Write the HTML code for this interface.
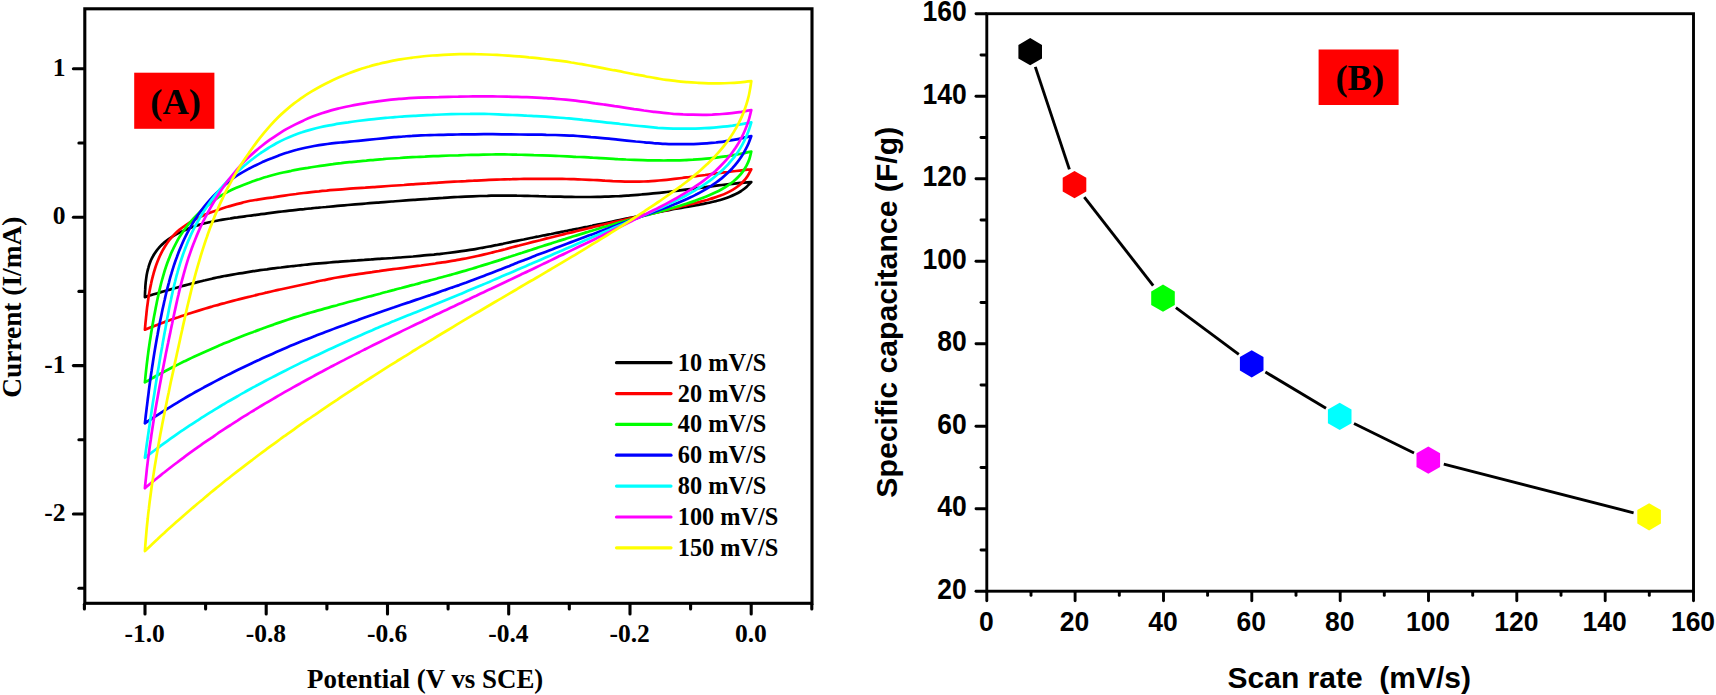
<!DOCTYPE html><html><head><meta charset="utf-8"><title>Figure</title><style>
html,body{margin:0;padding:0;background:#fff}svg{display:block}
.ts{font-family:"Liberation Serif",serif;font-weight:bold;fill:#000}
.ta{font-family:"Liberation Sans",sans-serif;font-weight:bold;fill:#000}
</style></head><body>
<svg width="1716" height="695" viewBox="0 0 1716 695">
<rect width="1716" height="695" fill="#fff"/>
<g fill="none" stroke-width="2.7" stroke-linejoin="round" stroke-linecap="round">
<path d="M144.9 297.1C145.0 294.7 145.0 292.3 145.2 289.9C145.3 287.4 145.4 284.9 145.7 282.4C146.0 279.9 146.3 277.4 146.7 274.9C147.1 272.5 147.7 270.0 148.4 267.6C149.0 265.2 149.9 262.8 150.8 260.5C151.8 258.3 153.0 256.1 154.3 254.0C155.6 252.0 157.0 249.9 158.6 248.1C160.1 246.3 161.8 244.6 163.6 243.1C165.3 241.5 167.1 240.1 169.0 238.8C170.9 237.5 172.8 236.3 174.8 235.1C176.8 234.0 178.9 232.9 181.0 231.9C183.1 230.9 185.2 229.9 187.4 229.0C189.6 228.1 191.8 227.2 194.1 226.5C196.3 225.7 198.7 225.0 201.0 224.3C203.3 223.6 205.7 223.1 208.1 222.5C210.5 221.9 212.9 221.4 215.3 221.0C217.7 220.5 220.2 220.1 222.7 219.6C225.1 219.2 227.6 218.8 230.1 218.5C232.6 218.1 235.0 217.7 237.5 217.4C240.0 217.0 242.5 216.7 245.0 216.3C247.5 216.0 250.0 215.6 252.4 215.3C254.9 215.0 257.4 214.6 259.9 214.3C262.3 214.0 264.8 213.7 267.3 213.3C269.7 213.0 272.2 212.7 274.7 212.4C277.1 212.1 279.6 211.8 282.0 211.5C284.5 211.2 286.9 210.9 289.4 210.6C291.8 210.4 294.3 210.1 296.7 209.8C299.1 209.6 301.6 209.3 304.0 209.1C306.5 208.8 308.9 208.6 311.3 208.4C313.8 208.1 316.2 207.9 318.6 207.7C321.1 207.4 323.5 207.2 325.9 207.0C328.4 206.7 330.8 206.5 333.2 206.3C335.7 206.1 338.1 205.9 340.5 205.6C342.9 205.4 345.4 205.2 347.8 205.0C350.2 204.8 352.6 204.6 355.1 204.4C357.5 204.2 359.9 204.0 362.4 203.8C364.8 203.6 367.2 203.4 369.6 203.2C372.1 203.0 374.5 202.8 376.9 202.6C379.4 202.4 381.8 202.3 384.2 202.1C386.7 201.9 389.1 201.7 391.5 201.5C394.0 201.3 396.4 201.2 398.9 201.0C401.3 200.8 403.7 200.6 406.2 200.4C408.6 200.3 411.1 200.1 413.5 199.9C416.0 199.7 418.4 199.6 420.9 199.4C423.3 199.2 425.8 199.0 428.2 198.9C430.7 198.7 433.2 198.5 435.6 198.3C438.1 198.2 440.5 198.0 443.0 197.9C445.5 197.7 447.9 197.5 450.4 197.4C452.9 197.3 455.3 197.1 457.8 197.0C460.3 196.8 462.7 196.7 465.2 196.6C467.6 196.5 470.1 196.4 472.6 196.3C475.0 196.2 477.5 196.1 480.0 196.0C482.4 195.9 484.9 195.8 487.4 195.8C489.8 195.7 492.3 195.7 494.7 195.6C497.2 195.6 499.6 195.6 502.1 195.6C504.6 195.6 507.0 195.6 509.5 195.6C511.9 195.6 514.4 195.6 516.8 195.7C519.3 195.7 521.7 195.8 524.2 195.8C526.6 195.9 529.1 195.9 531.5 196.0C534.0 196.0 536.4 196.1 538.8 196.2C541.3 196.2 543.7 196.3 546.2 196.4C548.6 196.4 551.1 196.5 553.5 196.6C555.9 196.6 558.4 196.7 560.8 196.7C563.3 196.8 565.7 196.8 568.2 196.9C570.6 196.9 573.0 197.0 575.5 197.0C577.9 197.0 580.4 197.0 582.8 197.0C585.3 197.0 587.7 197.0 590.2 197.0C592.6 197.0 595.0 197.0 597.5 196.9C599.9 196.9 602.4 196.8 604.8 196.7C607.3 196.6 609.7 196.5 612.2 196.4C614.6 196.3 617.1 196.2 619.5 196.1C622.0 195.9 624.4 195.8 626.9 195.6C629.3 195.4 631.8 195.3 634.2 195.1C636.7 194.9 639.1 194.7 641.6 194.5C644.0 194.3 646.5 194.1 648.9 193.8C651.4 193.6 653.8 193.4 656.3 193.1C658.7 192.9 661.2 192.6 663.6 192.3C666.0 192.1 668.5 191.8 670.9 191.5C673.4 191.2 675.8 190.9 678.2 190.6C680.7 190.3 683.1 190.0 685.5 189.7C688.0 189.4 690.4 189.1 692.8 188.8C695.3 188.4 697.7 188.1 700.1 187.8C702.5 187.5 705.0 187.2 707.4 186.8C709.8 186.5 712.3 186.2 714.7 185.9C717.1 185.6 719.6 185.3 722.0 185.0C724.4 184.7 726.9 184.4 729.3 184.1C731.7 183.9 734.2 183.6 736.6 183.3C739.1 183.1 741.5 182.8 743.9 182.6C746.4 182.4 748.8 182.2 751.3 182.0C749.7 183.6 748.2 185.4 746.5 186.9C744.8 188.4 743.0 189.7 741.2 191.0C739.3 192.2 737.3 193.3 735.3 194.3C733.3 195.3 731.2 196.2 729.1 197.0C727.0 197.8 724.8 198.5 722.6 199.2C720.4 199.9 718.1 200.5 715.9 201.1C713.6 201.6 711.3 202.2 709.1 202.7C706.8 203.2 704.5 203.6 702.2 204.1C699.8 204.5 697.5 205.0 695.2 205.4C692.9 205.8 690.6 206.2 688.2 206.6C685.9 207.0 683.6 207.4 681.3 207.8C678.9 208.2 676.6 208.6 674.3 209.0C672.0 209.4 669.7 209.9 667.4 210.3C665.1 210.7 662.8 211.2 660.5 211.6C658.2 212.1 655.9 212.5 653.6 213.0C651.3 213.4 649.0 213.9 646.8 214.4C644.5 214.8 642.2 215.3 639.9 215.8C637.6 216.2 635.4 216.7 633.1 217.2C630.8 217.7 628.5 218.1 626.3 218.6C624.0 219.1 621.7 219.6 619.5 220.1C617.2 220.6 614.9 221.1 612.7 221.5C610.4 222.0 608.1 222.5 605.8 223.0C603.6 223.5 601.3 224.0 599.0 224.4C596.8 224.9 594.5 225.3 592.2 225.8C589.9 226.2 587.7 226.7 585.4 227.1C583.1 227.6 580.8 228.0 578.6 228.5C576.3 228.9 574.0 229.4 571.7 229.9C569.4 230.3 567.2 230.8 564.9 231.2C562.6 231.7 560.3 232.1 558.0 232.6C555.7 233.1 553.5 233.5 551.2 234.0C548.9 234.4 546.6 234.9 544.3 235.3C542.0 235.8 539.7 236.2 537.4 236.7C535.2 237.1 532.9 237.6 530.6 238.0C528.3 238.5 526.0 239.0 523.7 239.5C521.4 239.9 519.1 240.4 516.8 240.9C514.5 241.4 512.2 241.9 509.9 242.3C507.6 242.8 505.3 243.3 503.0 243.8C500.7 244.2 498.4 244.7 496.1 245.2C493.8 245.6 491.5 246.1 489.2 246.5C486.9 247.0 484.6 247.4 482.3 247.8C480.0 248.3 477.7 248.7 475.4 249.1C473.1 249.5 470.8 249.8 468.5 250.2C466.2 250.6 463.9 250.9 461.6 251.2C459.3 251.5 457.0 251.8 454.7 252.1C452.3 252.4 450.0 252.7 447.7 253.0C445.4 253.3 443.1 253.6 440.8 253.8C438.5 254.1 436.2 254.3 433.9 254.6C431.5 254.8 429.2 255.0 426.9 255.2C424.6 255.5 422.3 255.7 420.0 255.9C417.6 256.1 415.3 256.3 413.0 256.5C410.7 256.6 408.4 256.8 406.1 257.0C403.7 257.2 401.4 257.3 399.1 257.5C396.8 257.7 394.5 257.8 392.2 258.0C389.8 258.1 387.5 258.3 385.2 258.5C382.9 258.6 380.6 258.8 378.2 258.9C375.9 259.1 373.6 259.2 371.3 259.4C369.0 259.5 366.6 259.7 364.3 259.9C362.0 260.0 359.7 260.2 357.4 260.4C355.0 260.5 352.7 260.7 350.4 260.9C348.1 261.0 345.7 261.2 343.4 261.4C341.1 261.6 338.8 261.7 336.5 261.9C334.2 262.1 331.8 262.3 329.5 262.5C327.2 262.7 324.9 262.9 322.6 263.1C320.2 263.3 317.9 263.5 315.6 263.7C313.3 264.0 311.0 264.2 308.7 264.4C306.3 264.6 304.0 264.9 301.7 265.1C299.4 265.4 297.1 265.6 294.8 265.9C292.4 266.1 290.1 266.4 287.8 266.6C285.5 266.9 283.2 267.2 280.9 267.5C278.6 267.7 276.3 268.0 274.0 268.3C271.7 268.6 269.3 268.9 267.0 269.3C264.7 269.6 262.4 269.9 260.1 270.2C257.8 270.6 255.5 270.9 253.2 271.2C250.9 271.6 248.6 272.0 246.3 272.3C244.0 272.7 241.7 273.1 239.4 273.4C237.1 273.8 234.9 274.2 232.6 274.6C230.3 275.0 228.0 275.4 225.7 275.8C223.4 276.3 221.1 276.7 218.9 277.2C216.6 277.6 214.3 278.2 212.0 278.7C209.8 279.2 207.5 279.7 205.2 280.3C203.0 280.8 200.7 281.4 198.4 281.9C196.2 282.5 193.9 283.1 191.7 283.6C189.4 284.2 187.2 284.8 184.9 285.4C182.7 286.0 180.4 286.6 178.2 287.2C175.9 287.8 173.7 288.5 171.5 289.1C169.2 289.7 167.0 290.4 164.8 291.0C162.6 291.7 160.4 292.3 158.1 293.0C155.9 293.7 153.7 294.3 151.5 295.0C149.3 295.7 147.1 296.4 144.9 297.1Z" stroke="#000"/>
<path d="M144.9 329.7C145.1 327.3 145.3 325.0 145.5 322.6C145.8 320.1 146.0 317.6 146.3 315.1C146.5 312.6 146.8 310.0 147.1 307.4C147.5 304.8 147.8 302.2 148.2 299.5C148.6 296.9 149.0 294.2 149.5 291.6C150.0 288.9 150.5 286.2 151.1 283.6C151.6 281.0 152.3 278.3 153.0 275.7C153.6 273.1 154.4 270.5 155.2 268.0C156.0 265.5 156.9 263.0 157.9 260.5C158.9 258.1 159.9 255.7 161.1 253.4C162.2 251.1 163.4 248.9 164.8 246.7C166.1 244.6 167.5 242.5 169.0 240.5C170.5 238.6 172.2 236.7 173.9 235.0C175.6 233.2 177.4 231.5 179.3 229.9C181.2 228.4 183.2 226.9 185.2 225.5C187.3 224.0 189.4 222.7 191.6 221.4C193.8 220.2 196.0 219.0 198.3 217.9C200.6 216.7 202.9 215.7 205.3 214.6C207.7 213.6 210.1 212.7 212.6 211.8C215.0 210.9 217.5 210.0 220.0 209.2C222.5 208.3 225.0 207.6 227.5 206.8C230.0 206.1 232.5 205.3 235.1 204.6C237.6 203.9 240.1 203.3 242.6 202.6C245.1 202.0 247.7 201.3 250.2 200.8C252.7 200.3 255.3 200.0 257.8 199.6C260.4 199.2 262.9 198.8 265.4 198.4C268.0 198.1 270.5 197.7 273.1 197.4C275.6 197.0 278.1 196.6 280.7 196.2C283.2 195.8 285.8 195.4 288.3 195.0C290.9 194.7 293.4 194.3 296.0 194.0C298.5 193.6 301.1 193.3 303.7 193.0C306.2 192.7 308.8 192.4 311.3 192.1C313.9 191.8 316.5 191.5 319.0 191.3C321.6 191.0 324.1 190.8 326.7 190.6C329.3 190.3 331.8 190.1 334.4 189.9C337.0 189.7 339.5 189.5 342.1 189.3C344.7 189.1 347.3 188.9 349.8 188.7C352.4 188.6 355.0 188.4 357.5 188.2C360.1 188.0 362.7 187.8 365.3 187.7C367.8 187.5 370.4 187.3 373.0 187.1C375.6 186.9 378.1 186.8 380.7 186.6C383.3 186.4 385.9 186.2 388.4 186.0C391.0 185.9 393.6 185.7 396.2 185.5C398.7 185.3 401.3 185.1 403.9 185.0C406.5 184.8 409.0 184.6 411.6 184.4C414.2 184.2 416.8 184.1 419.4 183.9C421.9 183.7 424.5 183.5 427.1 183.4C429.7 183.2 432.2 183.1 434.8 182.9C437.4 182.7 440.0 182.6 442.6 182.4C445.1 182.3 447.7 182.1 450.3 181.9C452.9 181.8 455.4 181.6 458.0 181.5C460.6 181.4 463.2 181.2 465.8 181.1C468.3 180.9 470.9 180.8 473.5 180.7C476.1 180.5 478.6 180.4 481.2 180.3C483.8 180.2 486.4 180.1 489.0 179.9C491.5 179.8 494.1 179.7 496.7 179.6C499.3 179.5 501.9 179.5 504.4 179.4C507.0 179.3 509.6 179.2 512.2 179.2C514.7 179.1 517.3 179.1 519.9 179.0C522.5 179.0 525.1 178.9 527.6 178.9C530.2 178.9 532.8 178.8 535.4 178.8C537.9 178.8 540.5 178.8 543.1 178.8C545.7 178.8 548.3 178.8 550.8 178.8C553.4 178.8 556.0 178.9 558.6 178.9C561.1 178.9 563.7 179.0 566.3 179.0C568.9 179.1 571.5 179.2 574.0 179.2C576.6 179.3 579.2 179.4 581.8 179.5C584.3 179.6 586.9 179.7 589.5 179.8C592.1 179.9 594.6 180.1 597.2 180.2C599.8 180.4 602.4 180.5 604.9 180.7C607.5 180.8 610.1 180.9 612.7 181.1C615.2 181.2 617.8 181.3 620.4 181.4C623.0 181.5 625.5 181.6 628.1 181.6C630.7 181.7 633.3 181.7 635.8 181.7C638.4 181.7 641.0 181.6 643.6 181.5C646.1 181.4 648.7 181.3 651.3 181.1C653.9 181.0 656.4 180.8 659.0 180.5C661.6 180.3 664.2 180.1 666.7 179.8C669.3 179.5 671.9 179.2 674.4 178.9C677.0 178.6 679.6 178.3 682.1 178.0C684.7 177.7 687.3 177.3 689.8 177.0C692.4 176.7 695.0 176.3 697.6 176.0C700.1 175.7 702.7 175.3 705.2 175.0C707.8 174.6 710.4 174.3 712.9 173.9C715.5 173.6 718.1 173.3 720.6 172.9C723.2 172.6 725.7 172.3 728.3 172.0C730.9 171.6 733.4 171.3 736.0 171.0C738.5 170.7 741.1 170.4 743.6 170.1C746.2 169.8 748.7 169.6 751.3 169.3C750.1 171.4 749.1 173.7 747.8 175.7C746.6 177.6 745.1 179.5 743.5 181.2C742.0 182.8 740.3 184.4 738.6 185.8C736.8 187.2 734.9 188.5 733.0 189.6C731.0 190.8 729.0 191.9 726.9 192.9C724.8 193.9 722.7 194.8 720.5 195.6C718.3 196.4 716.0 197.2 713.8 197.9C711.5 198.7 709.2 199.3 706.9 200.0C704.5 200.6 702.2 201.2 699.9 201.9C697.5 202.5 695.2 203.1 692.9 203.7C690.5 204.3 688.2 204.9 685.9 205.4C683.5 206.0 681.2 206.6 678.9 207.1C676.6 207.7 674.2 208.3 671.9 208.8C669.6 209.4 667.3 209.9 665.0 210.5C662.6 211.0 660.3 211.5 658.0 212.1C655.7 212.6 653.4 213.1 651.0 213.7C648.7 214.2 646.4 214.7 644.1 215.3C641.8 215.8 639.5 216.3 637.2 216.8C634.8 217.4 632.5 217.9 630.2 218.4C627.9 219.0 625.6 219.5 623.3 220.0C621.0 220.5 618.6 221.1 616.3 221.6C614.0 222.1 611.7 222.7 609.4 223.2C607.1 223.8 604.8 224.3 602.5 224.9C600.2 225.4 597.9 226.0 595.5 226.5C593.2 227.1 590.9 227.6 588.6 228.2C586.3 228.7 584.0 229.3 581.7 229.9C579.4 230.4 577.1 231.0 574.7 231.6C572.4 232.1 570.1 232.7 567.8 233.3C565.5 233.9 563.2 234.4 560.9 235.0C558.6 235.6 556.3 236.2 553.9 236.7C551.6 237.3 549.3 237.9 547.0 238.4C544.7 239.0 542.4 239.6 540.1 240.2C537.7 240.7 535.4 241.3 533.1 241.9C530.8 242.5 528.5 243.1 526.2 243.7C523.8 244.3 521.5 244.9 519.2 245.5C516.9 246.1 514.6 246.7 512.3 247.3C509.9 247.9 507.6 248.5 505.3 249.2C503.0 249.8 500.6 250.4 498.3 251.0C496.0 251.5 493.7 252.1 491.3 252.7C489.0 253.3 486.7 253.9 484.4 254.4C482.0 255.0 479.7 255.5 477.4 256.0C475.0 256.5 472.7 257.0 470.4 257.5C468.0 258.0 465.7 258.5 463.4 258.9C461.0 259.3 458.7 259.8 456.4 260.2C454.0 260.6 451.7 261.0 449.3 261.3C447.0 261.7 444.7 262.1 442.3 262.4C440.0 262.8 437.6 263.1 435.3 263.5C433.0 263.8 430.6 264.2 428.3 264.5C425.9 264.8 423.6 265.1 421.2 265.5C418.9 265.8 416.5 266.1 414.2 266.4C411.9 266.7 409.5 267.0 407.2 267.3C404.8 267.7 402.5 268.0 400.1 268.3C397.8 268.6 395.4 268.9 393.1 269.2C390.8 269.5 388.4 269.9 386.1 270.2C383.7 270.5 381.4 270.8 379.1 271.2C376.7 271.5 374.4 271.8 372.0 272.2C369.7 272.5 367.4 272.9 365.0 273.2C362.7 273.5 360.4 273.9 358.0 274.2C355.7 274.6 353.4 274.9 351.0 275.2C348.7 275.6 346.4 275.9 344.0 276.3C341.7 276.7 339.4 277.1 337.1 277.5C334.7 277.9 332.4 278.4 330.1 278.9C327.8 279.4 325.4 279.8 323.1 280.3C320.8 280.8 318.5 281.3 316.1 281.7C313.8 282.2 311.5 282.7 309.2 283.2C306.8 283.7 304.5 284.2 302.2 284.7C299.9 285.2 297.5 285.7 295.2 286.2C292.9 286.7 290.6 287.2 288.3 287.7C285.9 288.2 283.6 288.7 281.3 289.2C279.0 289.7 276.7 290.3 274.3 290.8C272.0 291.3 269.7 291.8 267.4 292.4C265.1 292.9 262.8 293.5 260.5 294.0C258.2 294.6 255.8 295.1 253.5 295.7C251.2 296.2 248.9 296.8 246.6 297.4C244.3 297.9 242.0 298.5 239.7 299.1C237.4 299.7 235.1 300.3 232.8 300.9C230.5 301.5 228.2 302.1 225.9 302.7C223.6 303.3 221.4 304.0 219.1 304.6C216.8 305.2 214.5 305.9 212.2 306.5C209.9 307.2 207.7 307.9 205.4 308.5C203.1 309.2 200.8 309.9 198.6 310.6C196.3 311.3 194.0 312.0 191.8 312.7C189.5 313.4 187.3 314.2 185.0 314.9C182.8 315.7 180.5 316.4 178.3 317.2C176.0 317.9 173.8 318.7 171.5 319.5C169.3 320.3 167.1 321.1 164.8 321.9C162.6 322.8 160.4 323.6 158.2 324.4C155.9 325.3 153.7 326.1 151.5 327.0C149.3 327.9 147.1 328.8 144.9 329.7Z" stroke="#f00"/>
<path d="M144.9 382.4C145.2 379.6 145.4 376.9 145.7 374.1C146.0 371.3 146.3 368.6 146.6 365.8C146.9 363.1 147.3 360.3 147.6 357.5C148.0 354.8 148.3 352.0 148.7 349.3C149.1 346.5 149.5 343.8 149.9 341.0C150.4 338.2 150.8 335.5 151.2 332.7C151.7 330.0 152.2 327.2 152.6 324.5C153.1 321.7 153.6 318.9 154.1 316.2C154.7 313.4 155.2 310.6 155.7 307.9C156.3 305.1 156.8 302.3 157.4 299.5C158.0 296.7 158.6 294.0 159.2 291.2C159.9 288.5 160.5 285.7 161.2 283.0C162.0 280.2 162.7 277.5 163.5 274.8C164.3 272.1 165.1 269.4 166.0 266.8C166.9 264.1 167.8 261.5 168.9 258.9C169.9 256.3 170.9 253.7 172.1 251.2C173.2 248.7 174.4 246.2 175.7 243.8C177.0 241.3 178.3 238.9 179.8 236.6C181.2 234.2 182.8 231.9 184.4 229.7C186.0 227.5 187.7 225.3 189.5 223.2C191.3 221.0 193.1 219.0 195.0 217.0C197.0 215.0 199.0 213.0 201.0 211.1C203.1 209.2 205.2 207.4 207.4 205.6C209.6 203.8 211.8 202.1 214.1 200.5C216.4 198.8 218.7 197.2 221.1 195.7C223.4 194.2 225.8 192.9 228.3 191.6C230.7 190.3 233.2 189.2 235.7 188.1C238.2 187.0 240.8 185.9 243.3 184.9C245.9 183.9 248.5 182.9 251.1 182.0C253.7 181.1 256.3 180.1 258.9 179.3C261.6 178.4 264.2 177.5 266.9 176.8C269.5 176.0 272.2 175.2 274.9 174.5C277.6 173.8 280.3 173.1 283.1 172.5C285.8 171.9 288.5 171.3 291.3 170.8C294.0 170.2 296.8 169.7 299.5 169.2C302.3 168.7 305.1 168.2 307.8 167.8C310.6 167.3 313.4 166.9 316.2 166.5C319.0 166.1 321.7 165.7 324.5 165.3C327.3 164.9 330.1 164.5 332.9 164.2C335.7 163.8 338.5 163.5 341.3 163.2C344.0 162.8 346.8 162.5 349.6 162.2C352.4 161.9 355.2 161.7 358.0 161.4C360.8 161.1 363.5 160.8 366.3 160.6C369.1 160.3 371.9 160.1 374.7 159.8C377.5 159.6 380.3 159.4 383.1 159.2C385.9 158.9 388.6 158.7 391.4 158.5C394.2 158.3 397.0 158.1 399.8 158.0C402.6 157.8 405.4 157.6 408.2 157.4C411.0 157.3 413.7 157.1 416.5 157.0C419.3 156.8 422.1 156.7 424.9 156.6C427.7 156.4 430.5 156.3 433.3 156.2C436.1 156.1 438.9 156.0 441.7 155.8C444.4 155.7 447.2 155.6 450.0 155.5C452.8 155.4 455.6 155.3 458.4 155.3C461.2 155.2 464.0 155.1 466.8 155.0C469.6 154.9 472.4 154.9 475.2 154.8C478.0 154.8 480.7 154.7 483.5 154.6C486.3 154.6 489.1 154.6 491.9 154.5C494.7 154.5 497.5 154.4 500.3 154.4C503.1 154.4 505.9 154.5 508.7 154.5C511.5 154.6 514.3 154.6 517.1 154.7C519.9 154.7 522.7 154.8 525.4 154.8C528.2 154.9 531.0 155.0 533.8 155.1C536.6 155.1 539.4 155.2 542.2 155.3C545.0 155.4 547.8 155.5 550.6 155.6C553.4 155.7 556.2 155.8 559.0 156.0C561.8 156.1 564.6 156.2 567.4 156.3C570.2 156.5 573.0 156.6 575.8 156.8C578.6 156.9 581.4 157.1 584.2 157.2C587.0 157.4 589.8 157.5 592.6 157.7C595.4 157.8 598.1 158.0 600.9 158.1C603.7 158.3 606.5 158.5 609.3 158.6C612.1 158.8 614.9 158.9 617.7 159.1C620.5 159.2 623.3 159.3 626.1 159.5C628.9 159.6 631.7 159.7 634.5 159.8C637.3 159.9 640.1 160.0 642.9 160.1C645.7 160.2 648.5 160.3 651.3 160.3C654.0 160.4 656.8 160.4 659.6 160.4C662.4 160.5 665.2 160.5 668.0 160.4C670.8 160.4 673.6 160.4 676.4 160.3C679.1 160.3 681.9 160.2 684.7 160.1C687.5 160.0 690.3 159.8 693.1 159.7C695.8 159.5 698.6 159.3 701.4 159.1C704.2 158.9 707.0 158.7 709.7 158.4C712.5 158.1 715.3 157.8 718.1 157.4C720.9 157.1 723.6 156.7 726.4 156.3C729.2 155.9 731.9 155.4 734.7 154.9C737.5 154.4 740.3 153.9 743.0 153.3C745.8 152.8 748.5 152.1 751.3 151.5C750.7 154.0 750.2 156.6 749.4 159.0C748.6 161.3 747.6 163.5 746.5 165.7C745.4 167.7 744.2 169.7 742.8 171.6C741.5 173.4 740.0 175.2 738.4 176.8C736.8 178.5 735.1 180.0 733.3 181.5C731.5 182.9 729.6 184.3 727.7 185.6C725.7 186.9 723.7 188.1 721.7 189.2C719.6 190.4 717.4 191.5 715.2 192.5C713.0 193.6 710.8 194.6 708.6 195.5C706.3 196.5 704.0 197.4 701.7 198.3C699.4 199.2 697.1 200.0 694.8 200.9C692.4 201.7 690.1 202.5 687.7 203.3C685.3 204.1 682.9 204.8 680.6 205.6C678.2 206.3 675.7 207.0 673.3 207.8C670.9 208.5 668.5 209.2 666.0 209.9C663.6 210.5 661.2 211.2 658.7 211.9C656.3 212.6 653.8 213.2 651.4 213.9C649.0 214.5 646.5 215.2 644.1 215.8C641.6 216.5 639.2 217.2 636.8 217.8C634.3 218.5 631.9 219.2 629.5 219.8C627.1 220.5 624.6 221.2 622.2 221.9C619.8 222.5 617.4 223.2 615.0 223.9C612.6 224.6 610.2 225.3 607.8 226.0C605.4 226.7 603.0 227.3 600.6 228.0C598.2 228.8 595.8 229.5 593.4 230.2C591.0 230.9 588.6 231.7 586.2 232.4C583.9 233.2 581.5 233.9 579.1 234.6C576.7 235.4 574.3 236.1 572.0 236.8C569.6 237.6 567.2 238.3 564.9 239.1C562.5 239.8 560.1 240.6 557.8 241.3C555.4 242.1 553.0 242.8 550.7 243.6C548.3 244.3 545.9 245.1 543.6 245.8C541.2 246.6 538.8 247.3 536.5 248.1C534.1 248.8 531.8 249.6 529.4 250.4C527.1 251.1 524.7 251.9 522.3 252.7C520.0 253.4 517.6 254.2 515.3 255.0C512.9 255.7 510.5 256.5 508.2 257.3C505.8 258.0 503.5 258.8 501.1 259.6C498.8 260.3 496.4 261.1 494.0 261.9C491.7 262.6 489.3 263.4 487.0 264.1C484.6 264.8 482.2 265.6 479.9 266.3C477.5 267.0 475.1 267.8 472.8 268.5C470.4 269.2 468.0 269.9 465.6 270.6C463.3 271.2 460.9 271.9 458.5 272.6C456.2 273.3 453.8 273.9 451.4 274.6C449.0 275.2 446.6 275.9 444.3 276.5C441.9 277.2 439.5 277.8 437.1 278.5C434.7 279.1 432.4 279.8 430.0 280.4C427.6 281.0 425.2 281.7 422.8 282.3C420.5 282.9 418.1 283.6 415.7 284.2C413.3 284.8 410.9 285.5 408.5 286.1C406.1 286.7 403.8 287.3 401.4 288.0C399.0 288.6 396.6 289.2 394.2 289.9C391.8 290.5 389.5 291.1 387.1 291.8C384.7 292.4 382.3 293.0 379.9 293.7C377.5 294.3 375.2 294.9 372.8 295.6C370.4 296.2 368.0 296.9 365.6 297.5C363.3 298.1 360.9 298.8 358.5 299.4C356.1 300.0 353.7 300.7 351.4 301.3C349.0 302.0 346.6 302.6 344.2 303.2C341.9 303.9 339.5 304.5 337.1 305.2C334.7 305.8 332.4 306.5 330.0 307.1C327.6 307.8 325.3 308.4 322.9 309.1C320.5 309.8 318.2 310.4 315.8 311.1C313.5 311.8 311.1 312.4 308.7 313.1C306.4 313.8 304.0 314.4 301.7 315.2C299.3 315.9 297.0 316.6 294.6 317.4C292.3 318.2 289.9 319.0 287.6 319.7C285.2 320.5 282.9 321.3 280.6 322.1C278.2 322.9 275.9 323.7 273.6 324.6C271.2 325.4 268.9 326.2 266.6 327.0C264.2 327.9 261.9 328.7 259.6 329.6C257.3 330.4 255.0 331.3 252.7 332.2C250.3 333.0 248.0 333.9 245.7 334.8C243.4 335.7 241.1 336.6 238.8 337.5C236.5 338.4 234.2 339.3 231.9 340.2C229.6 341.2 227.4 342.1 225.1 343.0C222.8 344.0 220.5 344.9 218.2 345.9C216.0 346.9 213.7 347.9 211.4 348.9C209.2 349.9 206.9 350.9 204.6 351.9C202.4 352.9 200.1 353.9 197.9 354.9C195.6 356.0 193.4 357.0 191.1 358.1C188.9 359.2 186.7 360.2 184.4 361.3C182.2 362.4 180.0 363.5 177.8 364.6C175.6 365.7 173.3 366.9 171.1 368.0C168.9 369.2 166.7 370.3 164.5 371.5C162.3 372.7 160.1 373.8 157.9 375.0C155.8 376.2 153.6 377.4 151.4 378.7C149.2 379.9 147.1 381.2 144.9 382.4Z" stroke="#0f0"/>
<path d="M144.9 423.3C145.2 420.4 145.6 417.4 145.9 414.5C146.3 411.5 146.6 408.6 147.0 405.6C147.4 402.7 147.7 399.7 148.1 396.8C148.5 393.8 148.8 390.9 149.2 387.9C149.6 385.0 150.0 382.0 150.4 379.1C150.8 376.2 151.2 373.2 151.7 370.3C152.1 367.3 152.6 364.4 153.0 361.5C153.5 358.5 153.9 355.6 154.4 352.6C154.9 349.7 155.4 346.8 155.9 343.8C156.4 340.9 156.9 337.9 157.5 335.0C158.0 332.1 158.6 329.1 159.1 326.2C159.7 323.3 160.3 320.3 160.9 317.4C161.5 314.5 162.1 311.5 162.7 308.6C163.4 305.7 164.0 302.7 164.7 299.8C165.3 296.9 166.0 293.9 166.7 291.0C167.5 288.1 168.2 285.2 169.0 282.3C169.7 279.4 170.5 276.5 171.4 273.7C172.2 270.8 173.1 267.9 174.0 265.1C175.0 262.3 175.9 259.5 177.0 256.7C178.0 253.9 179.0 251.1 180.2 248.4C181.3 245.6 182.5 242.9 183.7 240.2C184.9 237.6 186.2 234.9 187.6 232.3C189.0 229.7 190.4 227.1 191.9 224.6C193.4 222.0 194.9 219.5 196.6 217.1C198.2 214.6 200.0 212.2 201.7 209.8C203.5 207.5 205.4 205.2 207.3 202.9C209.3 200.6 211.3 198.4 213.3 196.2C215.4 194.0 217.5 191.9 219.7 189.9C221.8 187.8 224.1 185.8 226.3 183.8C228.6 181.8 230.9 179.9 233.3 178.1C235.7 176.4 238.1 174.9 240.6 173.4C243.1 171.9 245.6 170.5 248.1 169.1C250.7 167.8 253.2 166.4 255.8 165.2C258.4 163.9 261.1 162.7 263.7 161.5C266.4 160.3 269.1 159.2 271.8 158.2C274.5 157.1 277.3 156.1 280.0 155.1C282.8 154.1 285.6 153.1 288.4 152.3C291.2 151.4 294.0 150.5 296.8 149.8C299.7 149.0 302.6 148.3 305.4 147.7C308.3 147.1 311.2 146.5 314.1 146.0C317.0 145.5 319.9 145.0 322.9 144.6C325.8 144.2 328.8 143.8 331.7 143.4C334.7 143.1 337.6 142.8 340.6 142.5C343.5 142.2 346.5 142.0 349.5 141.7C352.5 141.4 355.4 141.1 358.4 140.8C361.4 140.5 364.4 140.2 367.4 139.9C370.3 139.6 373.3 139.3 376.3 139.0C379.3 138.7 382.3 138.4 385.3 138.1C388.3 137.8 391.2 137.5 394.2 137.2C397.2 137.0 400.2 136.7 403.2 136.5C406.2 136.3 409.2 136.0 412.2 135.9C415.2 135.7 418.1 135.5 421.1 135.4C424.1 135.3 427.1 135.2 430.1 135.1C433.1 135.0 436.1 135.0 439.1 134.9C442.1 134.8 445.0 134.8 448.0 134.7C451.0 134.6 454.0 134.6 457.0 134.5C460.0 134.5 463.0 134.4 465.9 134.4C468.9 134.4 471.9 134.3 474.9 134.3C477.9 134.3 480.9 134.3 483.8 134.2C486.8 134.2 489.8 134.2 492.8 134.2C495.8 134.3 498.7 134.3 501.7 134.3C504.7 134.3 507.7 134.4 510.6 134.4C513.6 134.5 516.6 134.5 519.6 134.5C522.5 134.5 525.5 134.5 528.5 134.6C531.5 134.6 534.4 134.6 537.4 134.6C540.4 134.7 543.4 134.7 546.3 134.8C549.3 134.8 552.3 134.9 555.3 135.0C558.2 135.1 561.2 135.2 564.2 135.3C567.2 135.4 570.2 135.5 573.1 135.7C576.1 135.9 579.1 136.1 582.1 136.3C585.0 136.5 588.0 136.8 591.0 137.1C594.0 137.3 597.0 137.6 599.9 137.9C602.9 138.2 605.9 138.5 608.9 138.7C611.9 139.0 614.8 139.4 617.8 139.7C620.8 140.0 623.8 140.3 626.8 140.6C629.7 140.9 632.7 141.2 635.7 141.5C638.7 141.7 641.6 142.0 644.6 142.3C647.6 142.6 650.6 142.8 653.6 143.1C656.5 143.3 659.5 143.6 662.5 143.8C665.4 143.9 668.4 144.1 671.4 144.1C674.4 144.2 677.3 144.2 680.3 144.2C683.3 144.2 686.3 144.2 689.2 144.1C692.2 144.1 695.2 144.0 698.1 143.8C701.1 143.7 704.0 143.5 707.0 143.3C710.0 143.0 712.9 142.8 715.9 142.5C718.9 142.1 721.8 141.8 724.8 141.3C727.7 140.9 730.7 140.4 733.6 139.9C736.6 139.4 739.5 138.8 742.5 138.1C745.4 137.5 748.4 136.7 751.3 136.0C750.4 138.5 749.5 141.0 748.5 143.4C747.5 145.7 746.3 148.0 745.1 150.3C744.0 152.5 742.7 154.6 741.3 156.7C740.0 158.7 738.6 160.7 737.1 162.6C735.6 164.5 734.0 166.4 732.4 168.2C730.8 169.9 729.1 171.6 727.3 173.3C725.6 174.9 723.8 176.5 721.9 178.1C720.0 179.6 718.1 181.1 716.1 182.5C714.2 183.9 712.1 185.3 710.1 186.6C708.0 187.9 705.9 189.2 703.8 190.4C701.6 191.6 699.4 192.8 697.2 194.0C695.0 195.1 692.7 196.3 690.5 197.3C688.2 198.4 685.8 199.5 683.5 200.5C681.2 201.5 678.8 202.5 676.4 203.5C674.0 204.5 671.6 205.4 669.2 206.4C666.8 207.3 664.3 208.2 661.9 209.1C659.5 210.0 657.0 210.9 654.5 211.8C652.1 212.7 649.6 213.6 647.2 214.4C644.7 215.3 642.2 216.2 639.8 217.1C637.3 217.9 634.8 218.8 632.4 219.7C629.9 220.6 627.5 221.4 625.0 222.3C622.6 223.2 620.2 224.1 617.7 224.9C615.3 225.8 612.8 226.7 610.4 227.6C608.0 228.5 605.6 229.3 603.1 230.2C600.7 231.1 598.3 232.0 595.9 232.9C593.4 233.8 591.0 234.7 588.6 235.6C586.2 236.5 583.8 237.4 581.4 238.3C579.0 239.2 576.6 240.1 574.2 241.0C571.7 241.9 569.3 242.8 566.9 243.7C564.5 244.6 562.1 245.5 559.7 246.4C557.3 247.3 554.9 248.2 552.6 249.2C550.2 250.1 547.8 251.0 545.4 251.9C543.0 252.8 540.6 253.7 538.2 254.6C535.8 255.5 533.4 256.5 531.0 257.4C528.6 258.3 526.2 259.3 523.9 260.2C521.5 261.1 519.1 262.1 516.7 263.0C514.3 264.0 511.9 264.9 509.5 265.9C507.1 266.8 504.7 267.7 502.3 268.7C500.0 269.6 497.6 270.6 495.2 271.5C492.8 272.5 490.4 273.4 488.0 274.3C485.6 275.2 483.2 276.2 480.8 277.1C478.4 278.0 476.0 278.9 473.6 279.8C471.2 280.7 468.8 281.6 466.4 282.5C464.0 283.3 461.6 284.2 459.2 285.1C456.8 285.9 454.4 286.8 452.0 287.6C449.6 288.5 447.2 289.3 444.8 290.1C442.4 291.0 440.0 291.8 437.6 292.6C435.2 293.4 432.8 294.2 430.3 295.1C427.9 295.9 425.5 296.7 423.1 297.5C420.7 298.3 418.3 299.1 415.9 299.9C413.5 300.7 411.1 301.5 408.7 302.4C406.3 303.2 403.9 304.0 401.4 304.8C399.0 305.6 396.6 306.4 394.2 307.3C391.8 308.1 389.4 308.9 387.0 309.7C384.6 310.6 382.2 311.4 379.8 312.2C377.4 313.1 375.0 313.9 372.6 314.8C370.2 315.6 367.8 316.5 365.4 317.3C363.0 318.2 360.6 319.1 358.2 319.9C355.8 320.8 353.4 321.7 351.0 322.5C348.6 323.4 346.2 324.3 343.8 325.2C341.4 326.0 339.0 326.9 336.6 327.8C334.3 328.7 331.9 329.6 329.5 330.5C327.1 331.4 324.7 332.3 322.4 333.2C320.0 334.1 317.6 335.1 315.2 336.0C312.9 336.9 310.5 337.8 308.1 338.8C305.8 339.7 303.4 340.7 301.0 341.6C298.7 342.6 296.3 343.6 293.9 344.6C291.6 345.5 289.2 346.5 286.9 347.5C284.5 348.5 282.2 349.6 279.9 350.6C277.5 351.6 275.2 352.6 272.8 353.7C270.5 354.7 268.2 355.7 265.8 356.8C263.5 357.8 261.2 358.9 258.9 360.0C256.5 361.0 254.2 362.1 251.9 363.2C249.6 364.3 247.3 365.4 245.0 366.5C242.7 367.6 240.4 368.7 238.1 369.8C235.8 370.9 233.5 372.0 231.2 373.2C228.9 374.3 226.7 375.5 224.4 376.6C222.1 377.8 219.8 378.9 217.6 380.1C215.3 381.3 213.0 382.5 210.8 383.7C208.5 384.9 206.3 386.1 204.0 387.3C201.8 388.6 199.6 389.8 197.3 391.0C195.1 392.3 192.9 393.5 190.6 394.8C188.4 396.1 186.2 397.4 184.0 398.6C181.8 399.9 179.6 401.2 177.4 402.6C175.2 403.9 173.0 405.2 170.8 406.6C168.6 407.9 166.4 409.3 164.3 410.6C162.1 412.0 159.9 413.4 157.8 414.8C155.6 416.2 153.5 417.6 151.3 419.0C149.2 420.4 147.0 421.9 144.9 423.3Z" stroke="#00f"/>
<path d="M144.9 457.8C145.3 454.7 145.8 451.6 146.2 448.4C146.6 445.3 147.1 442.2 147.5 439.1C148.0 436.0 148.4 432.9 148.9 429.8C149.3 426.7 149.8 423.6 150.2 420.5C150.7 417.4 151.1 414.3 151.6 411.2C152.1 408.1 152.5 405.0 153.0 401.9C153.5 398.9 154.0 395.8 154.5 392.7C155.0 389.6 155.4 386.5 155.9 383.4C156.4 380.4 156.9 377.3 157.4 374.2C157.9 371.1 158.5 368.0 159.0 364.9C159.5 361.9 160.0 358.8 160.5 355.7C161.1 352.6 161.6 349.5 162.2 346.4C162.7 343.3 163.2 340.3 163.8 337.2C164.4 334.1 164.9 331.0 165.5 327.9C166.1 324.8 166.6 321.7 167.2 318.6C167.8 315.5 168.4 312.4 169.0 309.3C169.6 306.2 170.2 303.1 170.9 300.0C171.5 296.9 172.2 293.8 172.9 290.7C173.6 287.7 174.3 284.6 175.1 281.5C175.8 278.5 176.6 275.4 177.5 272.4C178.3 269.4 179.2 266.4 180.1 263.4C181.0 260.4 182.0 257.4 183.0 254.5C184.1 251.5 185.1 248.6 186.3 245.7C187.4 242.8 188.6 239.9 189.9 237.1C191.1 234.3 192.5 231.5 193.9 228.7C195.3 225.9 196.7 223.2 198.3 220.5C199.8 217.8 201.4 215.1 203.1 212.5C204.8 209.9 206.5 207.3 208.3 204.7C210.1 202.1 211.9 199.6 213.8 197.1C215.7 194.6 217.7 192.1 219.7 189.7C221.7 187.3 223.7 184.9 225.9 182.6C227.9 180.4 230.1 178.4 232.3 176.3C234.5 174.2 236.8 172.2 239.1 170.2C241.4 168.2 243.7 166.1 246.1 164.2C248.4 162.2 250.8 160.3 253.3 158.5C255.7 156.6 258.2 154.8 260.7 153.0C263.3 151.3 265.8 149.6 268.4 148.0C271.1 146.4 273.7 144.8 276.4 143.3C279.1 141.8 281.9 140.4 284.7 139.1C287.5 137.8 290.3 136.5 293.2 135.4C296.1 134.3 299.0 133.2 302.0 132.3C305.0 131.3 308.0 130.4 311.0 129.6C314.0 128.8 317.1 128.0 320.1 127.3C323.2 126.6 326.3 126.0 329.4 125.4C332.5 124.8 335.6 124.3 338.7 123.7C341.8 123.2 344.9 122.7 348.1 122.3C351.2 121.8 354.3 121.4 357.4 121.0C360.5 120.6 363.6 120.2 366.8 119.8C369.9 119.5 373.0 119.1 376.1 118.8C379.2 118.5 382.4 118.2 385.5 117.9C388.6 117.6 391.7 117.4 394.9 117.1C398.0 116.9 401.1 116.6 404.3 116.4C407.4 116.2 410.5 116.0 413.7 115.8C416.8 115.6 419.9 115.5 423.0 115.3C426.2 115.1 429.3 115.0 432.4 114.9C435.6 114.7 438.7 114.6 441.9 114.5C445.0 114.4 448.1 114.3 451.3 114.2C454.4 114.1 457.5 114.0 460.7 114.0C463.8 113.9 467.0 113.9 470.1 113.9C473.2 113.8 476.4 113.9 479.5 113.9C482.6 113.9 485.8 114.0 488.9 114.0C492.1 114.1 495.2 114.2 498.3 114.3C501.5 114.4 504.6 114.6 507.7 114.8C510.9 114.9 514.0 115.1 517.2 115.2C520.3 115.4 523.4 115.5 526.6 115.7C529.7 115.8 532.8 116.0 536.0 116.1C539.1 116.3 542.2 116.5 545.4 116.7C548.5 116.9 551.6 117.1 554.8 117.3C557.9 117.5 561.0 117.7 564.2 118.0C567.3 118.3 570.4 118.5 573.5 118.8C576.7 119.1 579.8 119.4 582.9 119.8C586.1 120.1 589.2 120.4 592.3 120.8C595.4 121.1 598.6 121.5 601.7 121.8C604.8 122.2 607.9 122.6 611.0 122.9C614.2 123.3 617.3 123.6 620.4 124.0C623.5 124.3 626.7 124.7 629.8 125.0C632.9 125.4 636.0 125.7 639.1 126.0C642.2 126.3 645.4 126.6 648.5 126.9C651.6 127.2 654.7 127.5 657.8 127.8C661.0 128.0 664.1 128.2 667.2 128.4C670.3 128.6 673.4 128.6 676.5 128.7C679.7 128.7 682.8 128.7 685.9 128.7C689.0 128.7 692.1 128.7 695.2 128.6C698.3 128.5 701.5 128.4 704.6 128.2C707.7 128.1 710.8 127.9 713.9 127.6C717.0 127.4 720.2 127.1 723.3 126.7C726.4 126.4 729.5 126.0 732.6 125.6C735.7 125.1 738.8 124.6 742.0 124.1C745.1 123.6 748.2 122.9 751.3 122.3C750.5 125.0 749.7 127.7 748.8 130.3C747.9 132.8 746.9 135.3 745.8 137.8C744.7 140.2 743.5 142.5 742.2 144.8C741.0 147.0 739.7 149.2 738.3 151.4C736.9 153.5 735.4 155.6 733.9 157.6C732.3 159.5 730.7 161.5 729.0 163.3C727.4 165.2 725.6 167.0 723.9 168.8C722.1 170.5 720.2 172.2 718.3 173.8C716.4 175.5 714.5 177.1 712.5 178.6C710.5 180.2 708.4 181.7 706.3 183.1C704.2 184.6 702.1 186.0 699.9 187.4C697.8 188.8 695.5 190.1 693.3 191.4C691.1 192.7 688.8 194.0 686.5 195.2C684.2 196.5 681.8 197.7 679.5 198.9C677.1 200.1 674.8 201.2 672.4 202.4C670.0 203.5 667.5 204.7 665.1 205.8C662.7 206.9 660.2 208.0 657.8 209.1C655.3 210.1 652.9 211.2 650.4 212.3C647.9 213.4 645.5 214.4 643.0 215.5C640.5 216.5 638.1 217.6 635.6 218.6C633.1 219.7 630.7 220.8 628.2 221.8C625.8 222.9 623.3 223.9 620.8 225.0C618.4 226.0 615.9 227.1 613.5 228.1C611.0 229.2 608.6 230.2 606.1 231.3C603.7 232.3 601.2 233.4 598.8 234.5C596.3 235.5 593.9 236.6 591.4 237.6C589.0 238.7 586.5 239.8 584.1 240.8C581.7 241.9 579.2 243.0 576.8 244.0C574.3 245.1 571.9 246.1 569.5 247.2C567.0 248.3 564.6 249.3 562.1 250.4C559.7 251.4 557.3 252.5 554.8 253.5C552.4 254.6 550.0 255.7 547.5 256.7C545.1 257.8 542.7 258.8 540.2 259.9C537.8 260.9 535.4 262.0 532.9 263.0C530.5 264.1 528.1 265.1 525.7 266.2C523.2 267.2 520.8 268.3 518.4 269.3C515.9 270.4 513.5 271.4 511.1 272.5C508.6 273.5 506.2 274.6 503.8 275.6C501.3 276.6 498.9 277.7 496.5 278.7C494.0 279.8 491.6 280.8 489.2 281.9C486.7 282.9 484.3 283.9 481.9 285.0C479.4 286.0 477.0 287.0 474.6 288.0C472.1 289.1 469.7 290.1 467.3 291.1C464.8 292.1 462.4 293.2 459.9 294.2C457.5 295.2 455.1 296.2 452.6 297.2C450.2 298.2 447.7 299.2 445.3 300.2C442.9 301.2 440.4 302.2 438.0 303.2C435.5 304.2 433.1 305.2 430.7 306.2C428.2 307.2 425.8 308.2 423.3 309.2C420.9 310.2 418.5 311.2 416.0 312.2C413.6 313.1 411.2 314.1 408.7 315.1C406.3 316.1 403.8 317.1 401.4 318.1C399.0 319.1 396.5 320.1 394.1 321.1C391.7 322.0 389.3 323.0 386.8 324.0C384.4 325.0 382.0 326.0 379.5 327.0C377.1 328.1 374.7 329.1 372.3 330.2C369.8 331.2 367.4 332.3 365.0 333.3C362.6 334.4 360.2 335.5 357.8 336.5C355.3 337.6 352.9 338.7 350.5 339.7C348.1 340.8 345.7 341.9 343.3 343.0C340.9 344.1 338.5 345.2 336.1 346.3C333.7 347.4 331.3 348.5 328.9 349.6C326.5 350.7 324.1 351.8 321.7 352.9C319.3 354.0 316.9 355.1 314.6 356.3C312.2 357.4 309.8 358.5 307.4 359.7C305.0 360.8 302.7 362.0 300.3 363.1C297.9 364.3 295.6 365.4 293.2 366.6C290.8 367.8 288.5 369.0 286.1 370.2C283.8 371.3 281.4 372.5 279.1 373.7C276.7 374.9 274.4 376.1 272.1 377.4C269.7 378.6 267.4 379.8 265.1 381.0C262.7 382.3 260.4 383.5 258.1 384.8C255.8 386.0 253.5 387.3 251.2 388.5C248.9 389.8 246.5 391.1 244.3 392.4C242.0 393.6 239.7 394.9 237.4 396.3C235.1 397.6 232.8 398.9 230.5 400.2C228.2 401.5 226.0 402.9 223.7 404.2C221.4 405.6 219.2 406.9 216.9 408.3C214.7 409.7 212.4 411.0 210.2 412.4C207.9 413.8 205.7 415.2 203.5 416.6C201.2 418.0 199.0 419.5 196.8 420.9C194.6 422.3 192.4 423.8 190.2 425.2C188.0 426.7 185.8 428.2 183.6 429.7C181.4 431.1 179.2 432.6 177.0 434.1C174.8 435.7 172.7 437.2 170.5 438.7C168.3 440.3 166.2 441.8 164.0 443.4C161.9 444.9 159.7 446.5 157.6 448.1C155.5 449.7 153.3 451.3 151.2 452.9C149.1 454.5 147.0 456.2 144.9 457.8Z" stroke="#0ff"/>
<path d="M144.9 488.2C145.2 484.9 145.5 481.7 145.9 478.4C146.2 475.2 146.6 471.9 146.9 468.7C147.3 465.4 147.7 462.2 148.1 458.9C148.5 455.7 149.0 452.4 149.4 449.2C149.8 446.0 150.3 442.7 150.8 439.5C151.2 436.3 151.7 433.0 152.2 429.8C152.7 426.6 153.2 423.4 153.7 420.1C154.2 416.9 154.8 413.7 155.3 410.5C155.9 407.2 156.4 404.0 157.0 400.8C157.6 397.6 158.1 394.4 158.7 391.2C159.3 388.0 159.9 384.7 160.5 381.5C161.1 378.3 161.7 375.1 162.3 371.9C163.0 368.7 163.6 365.5 164.2 362.3C164.8 359.1 165.5 355.8 166.1 352.6C166.8 349.4 167.4 346.2 168.1 343.0C168.7 339.8 169.4 336.6 170.1 333.4C170.7 330.2 171.4 327.0 172.1 323.8C172.7 320.6 173.4 317.4 174.1 314.2C174.8 311.0 175.5 307.8 176.2 304.6C176.9 301.4 177.6 298.2 178.4 295.0C179.1 291.8 179.9 288.6 180.7 285.4C181.5 282.3 182.3 279.1 183.2 276.0C184.0 272.8 184.9 269.7 185.8 266.6C186.8 263.4 187.7 260.3 188.7 257.2C189.8 254.1 190.8 251.1 191.9 248.0C193.0 244.9 194.2 241.9 195.4 238.9C196.6 235.9 197.9 232.9 199.2 229.9C200.5 226.9 201.9 224.0 203.4 221.0C204.9 218.1 206.4 215.2 207.9 212.3C209.5 209.5 211.1 206.6 212.8 203.8C214.5 200.9 216.2 198.1 218.0 195.3C219.7 192.5 221.5 189.7 223.3 187.0C225.1 184.4 227.0 181.9 229.0 179.3C230.9 176.9 232.9 174.5 234.9 172.1C236.9 169.6 239.0 167.2 241.1 164.9C243.3 162.6 245.5 160.3 247.8 158.1C250.1 155.8 252.4 153.7 254.9 151.6C257.3 149.5 259.7 147.5 262.3 145.5C264.8 143.5 267.4 141.6 270.0 139.7C272.6 137.9 275.3 136.1 278.0 134.3C280.7 132.6 283.5 130.9 286.3 129.2C289.1 127.6 292.0 126.1 294.9 124.6C297.8 123.1 300.7 121.7 303.7 120.4C306.6 119.0 309.6 117.8 312.6 116.6C315.7 115.4 318.7 114.3 321.8 113.3C324.9 112.3 328.0 111.3 331.1 110.4C334.2 109.5 337.3 108.8 340.5 108.0C343.7 107.3 346.9 106.6 350.0 106.0C353.3 105.3 356.5 104.7 359.7 104.1C362.9 103.6 366.2 103.0 369.4 102.5C372.7 102.0 375.9 101.6 379.2 101.1C382.5 100.7 385.8 100.3 389.1 99.9C392.4 99.6 395.7 99.2 399.0 98.9C402.3 98.7 405.6 98.4 408.9 98.2C412.2 98.0 415.5 97.8 418.8 97.6C422.2 97.5 425.5 97.4 428.8 97.3C432.1 97.2 435.4 97.1 438.7 97.1C442.0 97.0 445.3 96.9 448.6 96.8C451.9 96.8 455.2 96.7 458.4 96.7C461.7 96.6 465.0 96.5 468.3 96.5C471.5 96.5 474.8 96.4 478.1 96.4C481.3 96.4 484.6 96.4 487.8 96.4C491.1 96.4 494.4 96.5 497.6 96.5C500.9 96.5 504.1 96.6 507.4 96.7C510.6 96.8 513.8 96.8 517.1 96.9C520.3 97.0 523.6 97.1 526.8 97.2C530.1 97.3 533.3 97.5 536.5 97.6C539.8 97.8 543.0 97.9 546.3 98.1C549.5 98.3 552.8 98.6 556.0 98.8C559.3 99.1 562.5 99.4 565.8 99.7C569.0 100.0 572.3 100.4 575.5 100.7C578.8 101.1 582.0 101.5 585.3 101.9C588.5 102.4 591.8 102.8 595.0 103.3C598.3 103.7 601.5 104.2 604.8 104.7C608.1 105.2 611.3 105.7 614.6 106.2C617.8 106.6 621.1 107.1 624.4 107.6C627.6 108.1 630.9 108.6 634.1 109.1C637.4 109.5 640.7 110.0 643.9 110.5C647.2 110.9 650.4 111.3 653.7 111.8C657.0 112.2 660.2 112.6 663.5 112.9C666.7 113.3 670.0 113.5 673.3 113.8C676.5 114.0 679.8 114.2 683.1 114.4C686.3 114.5 689.6 114.6 692.8 114.7C696.1 114.8 699.3 114.8 702.6 114.8C705.8 114.8 709.1 114.7 712.3 114.6C715.6 114.4 718.9 114.3 722.1 114.0C725.4 113.8 728.6 113.5 731.8 113.1C735.1 112.7 738.3 112.3 741.6 111.8C744.8 111.2 748.1 110.6 751.3 110.0C750.6 112.8 750.0 115.7 749.2 118.5C748.4 121.2 747.5 123.8 746.5 126.4C745.6 129.0 744.5 131.5 743.3 134.0C742.2 136.4 741.0 138.8 739.7 141.1C738.4 143.4 737.0 145.6 735.6 147.8C734.1 150.0 732.6 152.1 731.0 154.2C729.5 156.2 727.8 158.2 726.1 160.2C724.4 162.1 722.6 164.0 720.8 165.8C719.0 167.7 717.1 169.5 715.2 171.2C713.2 172.9 711.2 174.6 709.2 176.3C707.2 177.9 705.1 179.6 703.0 181.1C700.9 182.7 698.7 184.2 696.5 185.7C694.3 187.2 692.1 188.7 689.8 190.1C687.5 191.6 685.2 193.0 682.9 194.4C680.6 195.8 678.2 197.1 675.9 198.5C673.5 199.8 671.1 201.1 668.7 202.4C666.3 203.7 663.8 205.0 661.4 206.2C658.9 207.5 656.5 208.8 654.0 210.0C651.6 211.3 649.1 212.5 646.6 213.7C644.1 214.9 641.7 216.2 639.2 217.4C636.7 218.6 634.2 219.8 631.8 221.0C629.3 222.3 626.8 223.5 624.3 224.7C621.9 225.9 619.4 227.1 616.9 228.3C614.4 229.5 612.0 230.7 609.5 232.0C607.0 233.2 604.5 234.4 602.1 235.6C599.6 236.8 597.1 238.0 594.7 239.2C592.2 240.4 589.7 241.6 587.3 242.8C584.8 243.9 582.3 245.1 579.8 246.3C577.4 247.5 574.9 248.7 572.4 249.9C570.0 251.1 567.5 252.3 565.0 253.5C562.6 254.7 560.1 255.8 557.6 257.0C555.2 258.2 552.7 259.4 550.2 260.6C547.8 261.8 545.3 262.9 542.8 264.1C540.4 265.3 537.9 266.5 535.4 267.7C533.0 268.8 530.5 270.0 528.0 271.2C525.6 272.4 523.1 273.5 520.6 274.7C518.2 275.9 515.7 277.0 513.3 278.2C510.8 279.4 508.3 280.6 505.9 281.7C503.4 282.9 500.9 284.1 498.5 285.2C496.0 286.4 493.5 287.6 491.1 288.8C488.6 289.9 486.1 291.1 483.7 292.3C481.2 293.4 478.7 294.6 476.3 295.8C473.8 296.9 471.3 298.1 468.9 299.3C466.4 300.4 463.9 301.6 461.5 302.8C459.0 303.9 456.5 305.1 454.1 306.3C451.6 307.4 449.1 308.6 446.7 309.8C444.2 310.9 441.7 312.1 439.3 313.3C436.8 314.4 434.3 315.6 431.9 316.8C429.4 317.9 427.0 319.1 424.5 320.3C422.0 321.5 419.6 322.7 417.1 323.8C414.7 325.0 412.2 326.2 409.7 327.4C407.3 328.6 404.8 329.7 402.4 330.9C399.9 332.1 397.5 333.3 395.0 334.5C392.6 335.7 390.1 336.9 387.7 338.1C385.2 339.3 382.8 340.5 380.3 341.7C377.9 342.9 375.4 344.1 373.0 345.3C370.6 346.5 368.1 347.8 365.7 349.0C363.3 350.2 360.8 351.4 358.4 352.7C356.0 353.9 353.5 355.1 351.1 356.4C348.7 357.6 346.3 358.8 343.9 360.1C341.4 361.3 339.0 362.6 336.6 363.9C334.2 365.1 331.8 366.4 329.4 367.6C327.0 368.9 324.6 370.2 322.2 371.5C319.8 372.7 317.4 374.0 315.0 375.3C312.6 376.6 310.2 377.9 307.8 379.2C305.4 380.5 303.0 381.8 300.7 383.2C298.3 384.5 295.9 385.8 293.5 387.1C291.2 388.5 288.8 389.8 286.4 391.1C284.1 392.5 281.7 393.8 279.4 395.2C277.0 396.6 274.7 397.9 272.3 399.3C270.0 400.7 267.6 402.1 265.3 403.4C263.0 404.8 260.6 406.2 258.3 407.6C256.0 409.1 253.7 410.5 251.3 411.9C249.0 413.3 246.7 414.8 244.4 416.2C242.1 417.6 239.8 419.1 237.5 420.6C235.2 422.0 232.9 423.5 230.7 425.0C228.4 426.4 226.1 427.9 223.8 429.4C221.6 430.9 219.3 432.4 217.0 434.0C214.8 435.5 212.5 437.0 210.3 438.6C208.0 440.1 205.8 441.6 203.5 443.2C201.3 444.8 199.1 446.3 196.9 447.9C194.6 449.5 192.4 451.1 190.2 452.7C188.0 454.3 185.8 455.9 183.6 457.6C181.4 459.2 179.2 460.8 177.1 462.5C174.9 464.1 172.7 465.8 170.5 467.5C168.4 469.2 166.2 470.8 164.1 472.5C161.9 474.2 159.8 476.0 157.6 477.7C155.5 479.4 153.4 481.2 151.2 482.9C149.1 484.7 147.0 486.4 144.9 488.2Z" stroke="#f0f"/>
<path d="M144.9 551.0C145.2 547.4 145.4 543.9 145.7 540.3C146.0 536.8 146.3 533.2 146.6 529.7C146.9 526.1 147.3 522.6 147.7 519.0C148.0 515.5 148.4 511.9 148.9 508.4C149.3 504.9 149.7 501.3 150.2 497.8C150.7 494.3 151.1 490.7 151.6 487.2C152.1 483.7 152.7 480.2 153.2 476.6C153.7 473.1 154.3 469.6 154.8 466.1C155.4 462.6 156.0 459.1 156.6 455.5C157.2 452.0 157.8 448.5 158.4 445.0C159.1 441.5 159.7 438.0 160.3 434.5C161.0 431.0 161.7 427.5 162.3 424.0C163.0 420.5 163.7 417.0 164.4 413.5C165.1 410.0 165.8 406.5 166.5 403.0C167.2 399.5 167.9 396.0 168.7 392.5C169.4 389.0 170.1 385.6 170.8 382.1C171.6 378.6 172.3 375.1 173.1 371.6C173.8 368.1 174.6 364.6 175.3 361.1C176.1 357.7 176.8 354.2 177.6 350.7C178.4 347.2 179.1 343.7 179.9 340.2C180.6 336.8 181.4 333.3 182.2 329.8C182.9 326.3 183.7 322.8 184.5 319.4C185.3 315.9 186.0 312.4 186.8 309.0C187.6 305.5 188.5 302.0 189.3 298.6C190.1 295.1 191.0 291.6 191.8 288.2C192.7 284.7 193.6 281.3 194.5 277.8C195.4 274.4 196.3 271.0 197.3 267.6C198.3 264.1 199.3 260.7 200.3 257.3C201.3 253.9 202.4 250.5 203.5 247.1C204.6 243.7 205.7 240.3 206.9 237.0C208.0 233.6 209.3 230.2 210.5 226.9C211.8 223.6 213.1 220.2 214.4 216.9C215.8 213.6 217.2 210.3 218.6 207.0C220.0 203.8 221.5 200.5 223.1 197.3C224.6 194.1 226.2 190.9 227.8 187.7C229.5 184.5 231.2 181.4 232.9 178.3C234.7 175.2 236.5 172.1 238.3 169.0C240.2 166.0 242.1 163.0 244.1 160.0C246.1 157.0 248.2 154.1 250.3 151.1C252.4 148.1 254.5 145.1 256.7 142.1C258.9 139.2 261.2 136.3 263.6 133.4C265.9 130.6 268.3 127.8 270.7 125.1C273.1 122.5 275.6 119.9 278.2 117.3C280.7 114.8 283.3 112.4 286.0 110.1C288.6 107.8 291.3 105.5 294.1 103.4C296.9 101.3 299.7 99.2 302.5 97.3C305.4 95.3 308.3 93.5 311.3 91.7C314.2 89.9 317.2 88.2 320.3 86.5C323.3 84.8 326.4 83.2 329.6 81.7C332.7 80.1 335.9 78.6 339.1 77.2C342.3 75.8 345.6 74.4 348.9 73.2C352.2 71.9 355.5 70.7 358.9 69.6C362.3 68.5 365.7 67.4 369.1 66.5C372.5 65.5 376.0 64.6 379.4 63.7C382.9 62.9 386.4 62.1 389.9 61.4C393.4 60.7 396.9 60.0 400.5 59.4C404.0 58.8 407.6 58.3 411.1 57.8C414.7 57.3 418.3 56.9 421.9 56.5C425.4 56.1 429.0 55.8 432.6 55.5C436.2 55.2 439.8 55.0 443.4 54.8C447.0 54.6 450.5 54.5 454.1 54.3C457.7 54.2 461.3 54.2 464.9 54.1C468.4 54.1 472.0 54.1 475.6 54.2C479.1 54.2 482.7 54.3 486.3 54.5C489.8 54.6 493.4 54.7 497.0 54.9C500.5 55.1 504.1 55.4 507.6 55.6C511.2 55.9 514.7 56.2 518.3 56.4C521.8 56.7 525.4 57.0 528.9 57.4C532.5 57.7 536.0 58.0 539.5 58.4C543.1 58.8 546.6 59.1 550.1 59.6C553.7 60.0 557.2 60.4 560.7 60.9C564.3 61.4 567.8 61.9 571.3 62.5C574.8 63.0 578.3 63.6 581.8 64.2C585.4 64.8 588.9 65.5 592.4 66.1C595.9 66.8 599.4 67.4 602.9 68.1C606.4 68.8 609.9 69.5 613.5 70.2C617.0 70.8 620.5 71.5 624.0 72.2C627.5 72.9 631.0 73.6 634.5 74.3C638.0 74.9 641.5 75.6 645.1 76.2C648.6 76.9 652.1 77.5 655.6 78.1C659.1 78.7 662.6 79.4 666.1 79.9C669.7 80.4 673.2 80.7 676.7 81.1C680.2 81.5 683.8 81.8 687.3 82.1C690.8 82.4 694.4 82.6 697.9 82.8C701.4 83.0 705.0 83.2 708.5 83.3C712.1 83.3 715.6 83.4 719.2 83.3C722.7 83.3 726.3 83.2 729.8 83.0C733.4 82.9 737.0 82.6 740.6 82.3C744.1 82.0 747.7 81.6 751.3 81.2C750.8 84.3 750.4 87.5 749.8 90.6C749.3 93.7 748.6 96.7 747.8 99.6C747.0 102.5 746.1 105.4 745.1 108.2C744.2 110.9 743.1 113.7 741.9 116.4C740.8 119.0 739.5 121.6 738.2 124.1C736.9 126.7 735.5 129.1 734.0 131.6C732.6 134.0 731.0 136.3 729.4 138.7C727.8 141.0 726.1 143.2 724.4 145.4C722.6 147.7 720.8 149.8 719.0 151.9C717.1 154.1 715.2 156.1 713.2 158.2C711.2 160.2 709.2 162.2 707.1 164.2C705.1 166.1 703.0 168.1 700.8 170.0C698.7 171.9 696.5 173.7 694.2 175.6C692.0 177.4 689.8 179.2 687.5 181.0C685.2 182.8 682.9 184.5 680.5 186.3C678.2 188.0 675.8 189.7 673.5 191.4C671.1 193.1 668.7 194.8 666.3 196.5C663.9 198.2 661.5 199.8 659.1 201.5C656.6 203.1 654.2 204.8 651.8 206.4C649.3 208.0 646.9 209.7 644.5 211.3C642.0 212.9 639.6 214.5 637.1 216.1C634.7 217.7 632.2 219.3 629.8 220.9C627.3 222.5 624.8 224.1 622.4 225.6C619.9 227.2 617.4 228.8 614.9 230.3C612.4 231.9 610.0 233.4 607.5 235.0C605.0 236.5 602.5 238.1 600.0 239.6C597.5 241.2 595.0 242.7 592.5 244.2C590.0 245.8 587.5 247.3 585.0 248.8C582.5 250.3 580.0 251.8 577.5 253.3C575.0 254.9 572.4 256.4 569.9 257.9C567.4 259.4 564.9 260.9 562.4 262.4C559.9 263.9 557.3 265.4 554.8 266.9C552.3 268.4 549.8 269.8 547.2 271.3C544.7 272.8 542.2 274.3 539.7 275.8C537.1 277.3 534.6 278.8 532.1 280.3C529.5 281.7 527.0 283.2 524.5 284.7C521.9 286.2 519.4 287.7 516.9 289.2C514.4 290.6 511.8 292.1 509.3 293.6C506.8 295.1 504.2 296.6 501.7 298.1C499.2 299.5 496.6 301.0 494.1 302.5C491.6 304.0 489.1 305.5 486.5 307.0C484.0 308.5 481.5 310.0 479.0 311.5C476.4 312.9 473.9 314.4 471.4 315.9C468.9 317.4 466.4 318.9 463.8 320.4C461.3 321.9 458.8 323.4 456.3 324.9C453.8 326.5 451.3 328.0 448.8 329.5C446.3 331.0 443.7 332.5 441.2 334.0C438.7 335.5 436.2 337.0 433.7 338.6C431.2 340.1 428.7 341.6 426.2 343.1C423.7 344.6 421.2 346.2 418.7 347.7C416.2 349.2 413.7 350.8 411.2 352.3C408.8 353.8 406.3 355.4 403.8 356.9C401.3 358.5 398.8 360.0 396.3 361.6C393.8 363.1 391.4 364.7 388.9 366.2C386.4 367.8 383.9 369.4 381.5 370.9C379.0 372.5 376.5 374.1 374.1 375.6C371.6 377.2 369.2 378.8 366.7 380.4C364.2 381.9 361.8 383.5 359.3 385.1C356.9 386.7 354.4 388.3 352.0 389.9C349.5 391.5 347.1 393.1 344.7 394.7C342.2 396.3 339.8 397.9 337.4 399.6C334.9 401.2 332.5 402.8 330.1 404.4C327.7 406.1 325.3 407.7 322.8 409.3C320.4 411.0 318.0 412.6 315.6 414.3C313.2 415.9 310.8 417.6 308.4 419.2C306.0 420.9 303.6 422.6 301.2 424.2C298.8 425.9 296.4 427.6 294.1 429.3C291.7 431.0 289.3 432.7 286.9 434.3C284.6 436.0 282.2 437.7 279.8 439.5C277.5 441.2 275.1 442.9 272.8 444.6C270.4 446.3 268.1 448.1 265.7 449.8C263.4 451.5 261.0 453.3 258.7 455.0C256.4 456.8 254.1 458.5 251.7 460.3C249.4 462.0 247.1 463.8 244.8 465.6C242.5 467.4 240.2 469.2 237.9 470.9C235.6 472.7 233.3 474.5 231.0 476.3C228.7 478.1 226.4 480.0 224.1 481.8C221.9 483.6 219.6 485.4 217.3 487.3C215.1 489.1 212.8 491.0 210.5 492.8C208.3 494.7 206.0 496.5 203.8 498.4C201.6 500.3 199.3 502.1 197.1 504.0C194.9 505.9 192.6 507.8 190.4 509.7C188.2 511.6 186.0 513.5 183.8 515.4C181.6 517.4 179.4 519.3 177.2 521.2C175.0 523.2 172.8 525.1 170.7 527.1C168.5 529.0 166.3 531.0 164.2 533.0C162.0 534.9 159.8 536.9 157.7 538.9C155.5 540.9 153.4 542.9 151.3 544.9C149.1 546.9 147.0 549.0 144.9 551.0Z" stroke="#ff0"/>
</g>
<g stroke="#000" stroke-width="3.1" fill="none" stroke-linecap="square">
<rect x="84.8" y="8.8" width="727.2" height="594.5"/>
</g>
<g stroke="#000" stroke-width="3.1" fill="none" stroke-linecap="round">
<path d="M84.4 604.3 V608.9"/>
<path d="M145.0 604.3 V613.9"/>
<path d="M205.6 604.3 V608.9"/>
<path d="M266.2 604.3 V613.9"/>
<path d="M326.9 604.3 V608.9"/>
<path d="M387.5 604.3 V613.9"/>
<path d="M448.1 604.3 V608.9"/>
<path d="M508.7 604.3 V613.9"/>
<path d="M569.3 604.3 V608.9"/>
<path d="M630.0 604.3 V613.9"/>
<path d="M690.6 604.3 V608.9"/>
<path d="M751.2 604.3 V613.9"/>
<path d="M811.8 604.3 V608.9"/>
<path d="M83.8 68.8 H73.4"/>
<path d="M83.8 143.0 H78.9"/>
<path d="M83.8 217.2 H73.4"/>
<path d="M83.8 291.4 H78.9"/>
<path d="M83.8 365.6 H73.4"/>
<path d="M83.8 439.8 H78.9"/>
<path d="M83.8 514.0 H73.4"/>
<path d="M83.8 588.2 H78.9"/>
</g>
<g class="ts" font-size="25.5" text-anchor="middle">
<text x="144.7" y="641.6">-1.0</text>
<text x="265.9" y="641.6">-0.8</text>
<text x="387.2" y="641.6">-0.6</text>
<text x="508.4" y="641.6">-0.4</text>
<text x="629.7" y="641.6">-0.2</text>
<text x="750.9" y="641.6">0.0</text>
</g>
<g class="ts" font-size="25.5" text-anchor="end">
<text x="65.6" y="75.7">1</text>
<text x="65.6" y="224.1">0</text>
<text x="65.6" y="372.5">-1</text>
<text x="65.6" y="520.9">-2</text>
</g>
<text class="ts" font-size="26.9" x="307" y="687.8">Potential (V vs SCE)</text>
<text class="ts" font-size="26.9" transform="translate(21 397.8) rotate(-90) scale(1.018 1)">Current (I/mA)</text>
<rect x="134.2" y="72.7" width="80.2" height="56.1" fill="#f00"/>
<text class="ts" font-size="36.5" x="175.6" y="114" text-anchor="middle">(A)</text>
<path d="M616.5 362.7 H671" stroke="#000" stroke-width="3.2" stroke-linecap="round"/>
<text class="ts" font-size="24.3" x="677.8" y="370.7">10 mV/S</text>
<path d="M616.5 393.6 H671" stroke="#f00" stroke-width="3.2" stroke-linecap="round"/>
<text class="ts" font-size="24.3" x="677.8" y="401.6">20 mV/S</text>
<path d="M616.5 424.4 H671" stroke="#0f0" stroke-width="3.2" stroke-linecap="round"/>
<text class="ts" font-size="24.3" x="677.8" y="432.4">40 mV/S</text>
<path d="M616.5 455.2 H671" stroke="#00f" stroke-width="3.2" stroke-linecap="round"/>
<text class="ts" font-size="24.3" x="677.8" y="463.2">60 mV/S</text>
<path d="M616.5 486.1 H671" stroke="#0ff" stroke-width="3.2" stroke-linecap="round"/>
<text class="ts" font-size="24.3" x="677.8" y="494.1">80 mV/S</text>
<path d="M616.5 517.0 H671" stroke="#f0f" stroke-width="3.2" stroke-linecap="round"/>
<text class="ts" font-size="24.3" x="677.8" y="525.0">100 mV/S</text>
<path d="M616.5 547.8 H671" stroke="#ff0" stroke-width="3.2" stroke-linecap="round"/>
<text class="ts" font-size="24.3" x="677.8" y="555.8">150 mV/S</text>
<g stroke="#000" stroke-width="2.9" fill="none">
<path d="M1035.3 66.9 L1069.4 169.4"/>
<path d="M1084.3 197.2 L1153.2 285.6"/>
<path d="M1175.9 307.7 L1238.8 354.3"/>
<path d="M1265.4 372.0 L1326.0 408.2"/>
<path d="M1354.0 423.5 L1414.0 453.0"/>
<path d="M1443.8 464.1 L1633.6 512.8"/>
</g>
<polygon points="1030.2,38.1 1042.0,44.9 1042.0,58.5 1030.2,65.3 1018.4,58.5 1018.4,44.9" fill="#000"/>
<polygon points="1074.5,171.0 1086.3,177.8 1086.3,191.4 1074.5,198.2 1062.7,191.4 1062.7,177.8" fill="#f00"/>
<polygon points="1163.0,284.6 1174.8,291.4 1174.8,305.0 1163.0,311.8 1151.2,305.0 1151.2,291.4" fill="#0f0"/>
<polygon points="1251.7,350.2 1263.5,357.0 1263.5,370.6 1251.7,377.4 1239.9,370.6 1239.9,357.0" fill="#00f"/>
<polygon points="1339.7,402.8 1351.5,409.6 1351.5,423.2 1339.7,430.0 1327.9,423.2 1327.9,409.6" fill="#0ff"/>
<polygon points="1428.3,446.5 1440.1,453.3 1440.1,466.9 1428.3,473.7 1416.5,466.9 1416.5,453.3" fill="#f0f"/>
<polygon points="1649.1,503.2 1660.9,510.0 1660.9,523.6 1649.1,530.4 1637.3,523.6 1637.3,510.0" fill="#ff0"/>
<g stroke="#000" stroke-width="2.9" fill="none" stroke-linecap="square">
<rect x="986.8" y="13.7" width="706.7" height="577.5"/>
</g>
<g stroke="#000" stroke-width="2.9" fill="none" stroke-linecap="round">
<path d="M986.8 592.2 V600.8"/>
<path d="M1031.0 592.2 V595.4"/>
<path d="M1075.1 592.2 V600.8"/>
<path d="M1119.3 592.2 V595.4"/>
<path d="M1163.5 592.2 V600.8"/>
<path d="M1207.6 592.2 V595.4"/>
<path d="M1251.8 592.2 V600.8"/>
<path d="M1296.0 592.2 V595.4"/>
<path d="M1340.2 592.2 V600.8"/>
<path d="M1384.3 592.2 V595.4"/>
<path d="M1428.5 592.2 V600.8"/>
<path d="M1472.7 592.2 V595.4"/>
<path d="M1516.8 592.2 V600.8"/>
<path d="M1561.0 592.2 V595.4"/>
<path d="M1605.2 592.2 V600.8"/>
<path d="M1649.3 592.2 V595.4"/>
<path d="M1693.5 592.2 V600.8"/>
<path d="M985.8 591.2 H976.0"/>
<path d="M985.8 550.0 H981.0"/>
<path d="M985.8 508.7 H976.0"/>
<path d="M985.8 467.5 H981.0"/>
<path d="M985.8 426.2 H976.0"/>
<path d="M985.8 385.0 H981.0"/>
<path d="M985.8 343.7 H976.0"/>
<path d="M985.8 302.5 H981.0"/>
<path d="M985.8 261.2 H976.0"/>
<path d="M985.8 220.0 H981.0"/>
<path d="M985.8 178.7 H976.0"/>
<path d="M985.8 137.5 H981.0"/>
<path d="M985.8 96.2 H976.0"/>
<path d="M985.8 55.0 H981.0"/>
<path d="M985.8 13.7 H976.0"/>
</g>
<g class="ta" font-size="26.5" text-anchor="middle">
<text transform="translate(986.3 631.4) scale(1 1.07)">0</text>
<text transform="translate(1074.6 631.4) scale(1 1.07)">20</text>
<text transform="translate(1163.0 631.4) scale(1 1.07)">40</text>
<text transform="translate(1251.3 631.4) scale(1 1.07)">60</text>
<text transform="translate(1339.7 631.4) scale(1 1.07)">80</text>
<text transform="translate(1428.0 631.4) scale(1 1.07)">100</text>
<text transform="translate(1516.3 631.4) scale(1 1.07)">120</text>
<text transform="translate(1604.7 631.4) scale(1 1.07)">140</text>
<text transform="translate(1693.0 631.4) scale(1 1.07)">160</text>
</g>
<g class="ta" font-size="26.5" text-anchor="end">
<text transform="translate(966.8 598.8) scale(1 1.085)">20</text>
<text transform="translate(966.8 516.3) scale(1 1.085)">40</text>
<text transform="translate(966.8 433.8) scale(1 1.085)">60</text>
<text transform="translate(966.8 351.3) scale(1 1.085)">80</text>
<text transform="translate(966.8 268.8) scale(1 1.085)">100</text>
<text transform="translate(966.8 186.3) scale(1 1.085)">120</text>
<text transform="translate(966.8 103.8) scale(1 1.085)">140</text>
<text transform="translate(966.8 21.3) scale(1 1.085)">160</text>
</g>
<text class="ta" font-size="30" x="1227.5" y="687.6">Scan rate  (mV/s)</text>
<text class="ta" font-size="30" transform="translate(896.5 497.7) rotate(-90) scale(1.0072 1)">Specific capacitance (F/g)</text>
<rect x="1318.6" y="49.5" width="80" height="55.5" fill="#f00"/>
<text class="ts" font-size="36.5" x="1359.8" y="90.3" text-anchor="middle">(B)</text>
</svg></body></html>
